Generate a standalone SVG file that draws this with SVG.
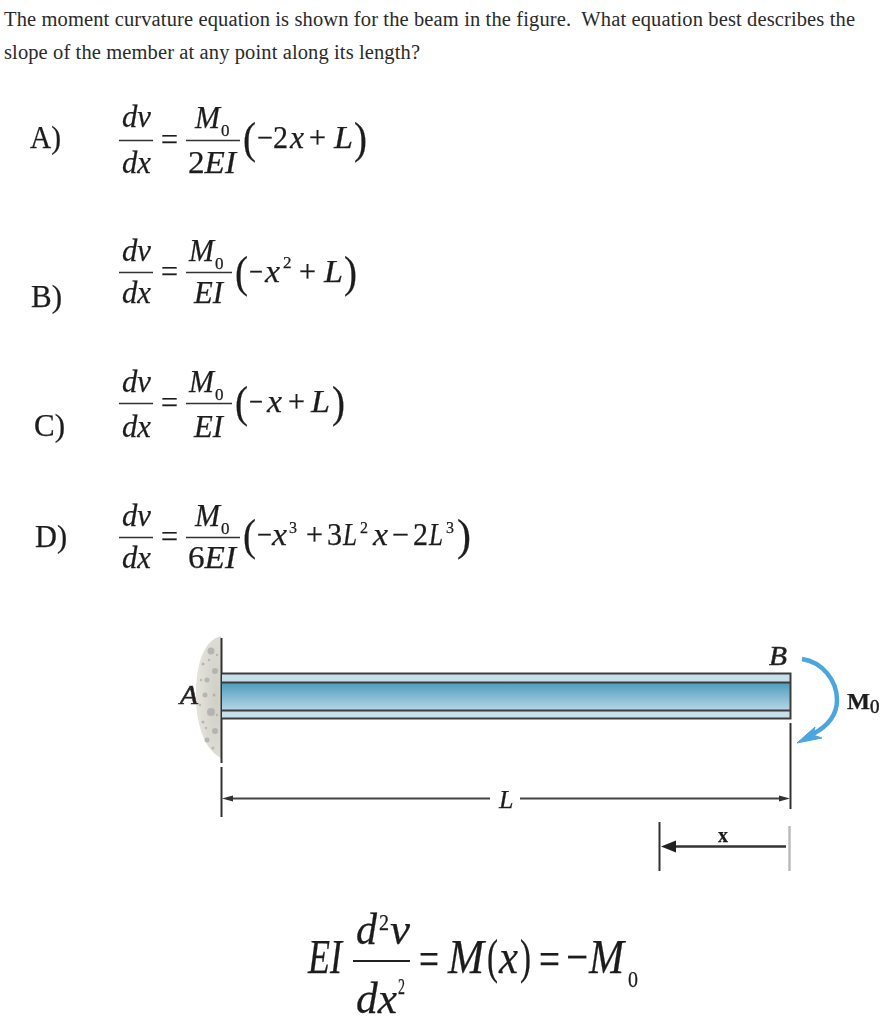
<svg xmlns="http://www.w3.org/2000/svg" width="886" height="1024" viewBox="0 0 886 1024">
<style>
text{font-family:"Liberation Serif","Times New Roman",serif;fill:#1c1c1c}
.q{font-size:20.5px;fill:#2a2a2a}
.lab{font-size:31px}
.i{font-style:italic;font-size:32px}
.n{font-size:31px}
.s{font-size:17px}
.p{font-size:44px}
.b{font-size:48px;font-style:italic}
.b2{font-size:44px;font-style:italic}
.bn{font-size:48px}
.bs{font-size:23px}
.f{stroke:#333;stroke-width:1.6;fill:none}
.d{stroke:#333;stroke-width:2;fill:none}
.k{stroke:#444;stroke-width:2;fill:none}
.soft{filter:url(#soft)}
.soft text{stroke:#1c1c1c;stroke-width:.25}
</style>
<defs>
<filter id="soft" x="-5%" y="-5%" width="110%" height="110%"><feGaussianBlur stdDeviation="0.4"/></filter>
<linearGradient id="core" x1="0" y1="0" x2="0" y2="1"><stop offset="0" stop-color="#4f9dbd"/><stop offset="1" stop-color="#b4d6e5"/></linearGradient>
<radialGradient id="wall" cx="0.8" cy="0.5" r="0.7"><stop offset="0" stop-color="#cfcfc6"/><stop offset="1" stop-color="#e2e2da"/></radialGradient>
</defs>
<rect width="886" height="1024" fill="#fff"/>
<g id="question">
<text class="q" x="4" y="26" textLength="851" lengthAdjust="spacing" xml:space="preserve">The moment curvature equation is shown for the beam in the figure.  What equation best describes the</text>
<text class="q" x="4" y="59" textLength="416" lengthAdjust="spacing">slope of the member at any point along its length?</text>
</g>
<g id="option-a" class="soft">
<text class="lab" x="30" y="148" textLength="31" lengthAdjust="spacingAndGlyphs">A)</text>
<text class="i" x="122" y="127" textLength="29" lengthAdjust="spacingAndGlyphs">dv</text>
<path class="f" d="M119 140.500H153"/>
<text class="i" x="122" y="173" textLength="29" lengthAdjust="spacingAndGlyphs">dx</text>
<text class="n" x="161" y="150" textLength="17" lengthAdjust="spacingAndGlyphs">=</text>
<path class="f" d="M186 140.500H240"/>
<text class="i" x="195" y="128" textLength="25" lengthAdjust="spacingAndGlyphs">M</text>
<text class="s" x="221" y="136">0</text>
<text class="i" x="188" y="173" textLength="48" lengthAdjust="spacingAndGlyphs"><tspan font-style="normal">2</tspan>EI</text>
<text class="p" x="243" y="153" textLength="13" lengthAdjust="spacingAndGlyphs">(</text>
<text class="n" x="257" y="148" textLength="16" lengthAdjust="spacingAndGlyphs">−</text>
<text class="n" x="273" y="148" textLength="15" lengthAdjust="spacingAndGlyphs">2</text>
<text class="i" x="290" y="148" textLength="14" lengthAdjust="spacingAndGlyphs">x</text>
<text class="n" x="309" y="148" textLength="17" lengthAdjust="spacingAndGlyphs">+</text>
<text class="i" x="334" y="148" textLength="19" lengthAdjust="spacingAndGlyphs">L</text>
<text class="p" x="354" y="153" textLength="13" lengthAdjust="spacingAndGlyphs">)</text>
</g>
<g id="option-b" class="soft">
<text class="lab" x="31" y="307" textLength="31" lengthAdjust="spacingAndGlyphs">B)</text>
<text class="i" x="122" y="261" textLength="29" lengthAdjust="spacingAndGlyphs">dv</text>
<path class="f" d="M119 272.500H153"/>
<text class="i" x="122" y="303" textLength="29" lengthAdjust="spacingAndGlyphs">dx</text>
<text class="n" x="161" y="282" textLength="17" lengthAdjust="spacingAndGlyphs">=</text>
<path class="f" d="M186 272.500H232"/>
<text class="i" x="189" y="261" textLength="25" lengthAdjust="spacingAndGlyphs">M</text>
<text class="s" x="215" y="269">0</text>
<text class="i" x="194" y="303" textLength="29" lengthAdjust="spacingAndGlyphs">EI</text>
<text class="p" x="235" y="287" textLength="13" lengthAdjust="spacingAndGlyphs">(</text>
<text class="n" x="249" y="282" textLength="14" lengthAdjust="spacingAndGlyphs">−</text>
<text class="i" x="265" y="282" textLength="15" lengthAdjust="spacingAndGlyphs">x</text>
<text class="s" x="283" y="268">2</text>
<text class="n" x="299" y="282" textLength="17" lengthAdjust="spacingAndGlyphs">+</text>
<text class="i" x="324" y="282" textLength="19" lengthAdjust="spacingAndGlyphs">L</text>
<text class="p" x="344" y="287" textLength="13" lengthAdjust="spacingAndGlyphs">)</text>
</g>
<g id="option-c" class="soft">
<text class="lab" x="34" y="436" textLength="31" lengthAdjust="spacingAndGlyphs">C)</text>
<text class="i" x="122" y="392" textLength="29" lengthAdjust="spacingAndGlyphs">dv</text>
<path class="f" d="M119 403.500H153"/>
<text class="i" x="122" y="437" textLength="29" lengthAdjust="spacingAndGlyphs">dx</text>
<text class="n" x="161" y="413" textLength="17" lengthAdjust="spacingAndGlyphs">=</text>
<path class="f" d="M186 403.500H232"/>
<text class="i" x="189" y="392" textLength="25" lengthAdjust="spacingAndGlyphs">M</text>
<text class="s" x="215" y="400">0</text>
<text class="i" x="194" y="437" textLength="29" lengthAdjust="spacingAndGlyphs">EI</text>
<text class="p" x="235" y="417" textLength="13" lengthAdjust="spacingAndGlyphs">(</text>
<text class="n" x="249" y="412" textLength="14" lengthAdjust="spacingAndGlyphs">−</text>
<text class="i" x="267" y="412" textLength="15" lengthAdjust="spacingAndGlyphs">x</text>
<text class="n" x="288" y="412" textLength="17" lengthAdjust="spacingAndGlyphs">+</text>
<text class="i" x="311" y="412" textLength="19" lengthAdjust="spacingAndGlyphs">L</text>
<text class="p" x="332" y="417" textLength="13" lengthAdjust="spacingAndGlyphs">)</text>
</g>
<g id="option-d" class="soft">
<text class="lab" x="35" y="547" textLength="32" lengthAdjust="spacingAndGlyphs">D)</text>
<text class="i" x="122" y="526" textLength="29" lengthAdjust="spacingAndGlyphs">dv</text>
<path class="f" d="M119 537.500H153"/>
<text class="i" x="122" y="568" textLength="29" lengthAdjust="spacingAndGlyphs">dx</text>
<text class="n" x="161" y="547" textLength="17" lengthAdjust="spacingAndGlyphs">=</text>
<path class="f" d="M186 537.500H240"/>
<text class="i" x="195" y="526" textLength="25" lengthAdjust="spacingAndGlyphs">M</text>
<text class="s" x="221" y="534">0</text>
<text class="i" x="188" y="568" textLength="48" lengthAdjust="spacingAndGlyphs"><tspan font-style="normal">6</tspan>EI</text>
<text class="p" x="243" y="550" textLength="13" lengthAdjust="spacingAndGlyphs">(</text>
<text class="n" x="257" y="545" textLength="15" lengthAdjust="spacingAndGlyphs">−</text>
<text class="i" x="272" y="545" textLength="15" lengthAdjust="spacingAndGlyphs">x</text>
<text class="s" x="289" y="533" textLength="8" lengthAdjust="spacingAndGlyphs">3</text>
<text class="n" x="306" y="545" textLength="17" lengthAdjust="spacingAndGlyphs">+</text>
<text class="n" x="327" y="545" textLength="15" lengthAdjust="spacingAndGlyphs">3</text>
<text class="i" x="343" y="545" textLength="14" lengthAdjust="spacingAndGlyphs">L</text>
<text class="s" x="360" y="533" textLength="8" lengthAdjust="spacingAndGlyphs">2</text>
<text class="i" x="373" y="545" textLength="15" lengthAdjust="spacingAndGlyphs">x</text>
<text class="n" x="392" y="545" textLength="17" lengthAdjust="spacingAndGlyphs">−</text>
<text class="n" x="413" y="545" textLength="15" lengthAdjust="spacingAndGlyphs">2</text>
<text class="i" x="429" y="545" textLength="14" lengthAdjust="spacingAndGlyphs">L</text>
<text class="s" x="446" y="533" textLength="8" lengthAdjust="spacingAndGlyphs">3</text>
<text class="p" x="457" y="550" textLength="14" lengthAdjust="spacingAndGlyphs">)</text>
</g>
<g id="wall-a" class="soft">
<path d="M221 636C205 640 197 660 196 690C195 725 205 750 221 758Z" fill="url(#wall)"/>
<g fill="#a9a9a9" opacity=".75">
<circle cx="211" cy="651" r="3.500"/><circle cx="215" cy="671" r="3"/><circle cx="207" cy="680" r="2.500"/><circle cx="205" cy="695" r="2.500"/><circle cx="211" cy="712" r="4"/><circle cx="215" cy="731" r="3"/><circle cx="207" cy="740" r="2.500"/><circle cx="203" cy="664" r="1.500"/><circle cx="214" cy="695" r="1.500"/><circle cx="203" cy="722" r="1.500"/><circle cx="213" cy="748" r="1.500"/><circle cx="200" cy="705" r="1.200"/><circle cx="209" cy="660" r="1.200"/><circle cx="217" cy="655" r="1.200"/><circle cx="217" cy="715" r="1.200"/><circle cx="201" cy="680" r="1.200"/><circle cx="206" cy="728" r="1.200"/>
</g>
<path class="d" d="M221.500 638V763M221.500 767V817"/>
<text x="180" y="704" font-size="28" font-style="italic" textLength="18" lengthAdjust="spacingAndGlyphs" fill="#333" style="stroke-width:.6;stroke:#333">A</text>
</g>
<g id="beam" class="soft">
<rect x="222" y="674" width="568" height="44" fill="#c6dfeb"/>
<rect x="222" y="683" width="568" height="27" fill="url(#core)"/>
<path d="M222 673.500H790.500V718.500H222M222 682.500H790M222 710.500H790" fill="none" stroke="#3c3c3c" stroke-width="2"/>
</g>
<g id="connectors" class="soft">
<path class="d" d="M790.500 723V809"/>
<path class="k" d="M232 798.500H490M520 798.500H780"/>
<path d="M222 798.500l11-3v6z" fill="#333"/>
<path d="M790 798.500l-11-3v6z" fill="#333"/>
<path class="d" d="M659.500 822V871"/>
<path d="M789.500 826V871" stroke="#bbb" stroke-width="2.500" fill="none"/>
<path d="M672 846.500H786" stroke="#333" stroke-width="2.500" fill="none"/>
<path d="M661 846.500l15-6v12z" fill="#222"/>
<path d="M802 659C822 662 837 680 837 700C837 716 826 727 813 734" fill="none" stroke="#4aa6de" stroke-width="4.500"/>
<path d="M797 743L815 727L813 735L822 738Z" fill="#4aa6de" stroke="#4aa6de" stroke-width="1"/>
</g>
<g id="labels" class="soft">
<text x="769" y="665" font-size="28" font-style="italic" textLength="18" lengthAdjust="spacingAndGlyphs" fill="#333" style="stroke-width:.6;stroke:#333">B</text>
<text x="847" y="709" font-size="24" font-weight="bold" fill="#2a2a2a" textLength="23" lengthAdjust="spacingAndGlyphs">M</text>
<text x="870" y="713" font-size="19" fill="#2a2a2a" style="stroke-width:.5">0</text>
<text x="499" y="808" font-size="26" font-style="italic" fill="#333">L</text>
<text x="718" y="842" font-size="22" font-weight="bold" fill="#444" textLength="10" lengthAdjust="spacingAndGlyphs">x</text>
</g>
<g id="equation" class="soft">
<text class="b" x="308" y="973" textLength="34" lengthAdjust="spacingAndGlyphs">EI</text>
<text class="b2" x="356" y="944" textLength="21" lengthAdjust="spacingAndGlyphs">d</text>
<text class="bs" x="379" y="930" textLength="10" lengthAdjust="spacingAndGlyphs">2</text>
<text class="b2" x="390" y="944" textLength="20" lengthAdjust="spacingAndGlyphs">v</text>
<path d="M353 961H410" stroke="#222" stroke-width="2"/>
<text class="b2" x="356" y="1013" textLength="41" lengthAdjust="spacingAndGlyphs">dx</text>
<text class="bs" x="398" y="994" textLength="7" lengthAdjust="spacingAndGlyphs">2</text>
<text class="bn" x="419" y="975" textLength="20" lengthAdjust="spacingAndGlyphs">=</text>
<text class="b" x="448" y="973" textLength="36" lengthAdjust="spacingAndGlyphs">M</text>
<text class="bn" x="487" y="973" textLength="11" lengthAdjust="spacingAndGlyphs">(</text>
<text class="b" x="499" y="973" textLength="19" lengthAdjust="spacingAndGlyphs">x</text>
<text class="bn" x="520" y="973" textLength="11" lengthAdjust="spacingAndGlyphs">)</text>
<text class="bn" x="539" y="975" textLength="21" lengthAdjust="spacingAndGlyphs">=</text>
<text class="bn" x="566" y="973" textLength="22" lengthAdjust="spacingAndGlyphs">−</text>
<text class="b" x="589" y="973" textLength="35" lengthAdjust="spacingAndGlyphs">M</text>
<text class="bs" x="628" y="987" textLength="10" lengthAdjust="spacingAndGlyphs">0</text>
</g>
</svg>
